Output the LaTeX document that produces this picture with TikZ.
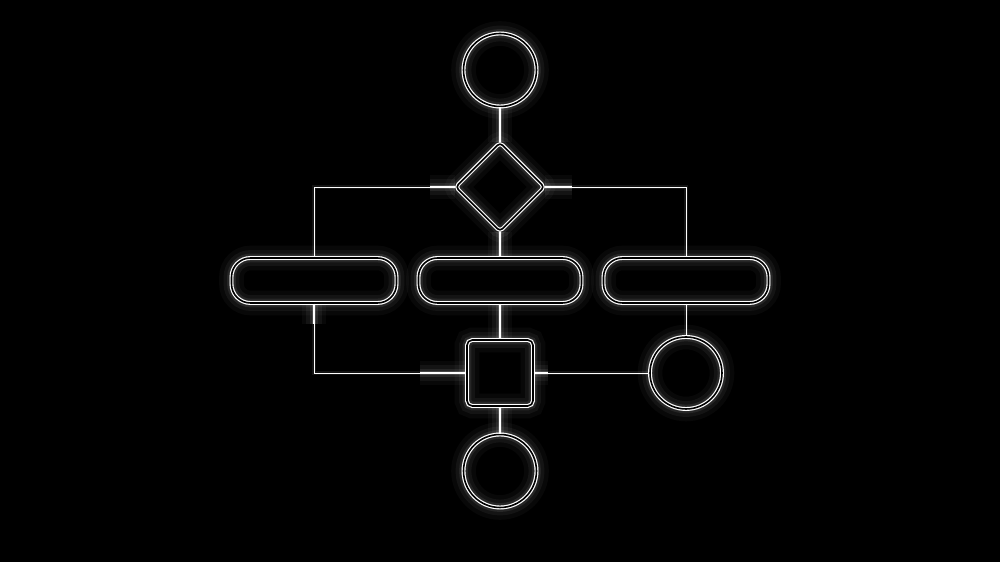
\documentclass[tikz,border=0pt]{standalone}
\usepackage{tikz}
\usetikzlibrary{positioning,shapes.geometric}

\tikzset{
  glow/.style={preaction={draw=white,opacity=.03,line width=14pt},
               preaction={draw=white,opacity=.05,line width=9pt},
               preaction={draw=white,opacity=.08,line width=5pt},
               preaction={draw=white,opacity=.15,line width=2.6pt}},
  neon/.style={draw=white!92,double=black,double distance=.9pt,line width=.65pt,glow},
  wire/.style={draw=white!62,line width=.5pt,preaction={draw=white,opacity=.08,line width=2.5pt}},
  spark/.style={draw=white,line width=1pt,glow}
}

\begin{document}
\begin{tikzpicture}

\fill[black] (0,0) rectangle (20,11.24) ;
\useasboundingbox (0,0) rectangle (20,11.24) ;

\node[circle,neon,minimum size=1.46cm] (c1) at (10,9.84) {} ;
\node[diamond,neon,minimum size=1.78cm,inner sep=0pt,rounded corners=2pt] (d1) at (10,7.5) {} ;
\node[rectangle,neon,minimum width=3.3cm,minimum height=.9cm,rounded corners=.38cm] (r1) at (6.28,5.63) {} ;
\node[rectangle,neon,minimum width=3.26cm,minimum height=.9cm,rounded corners=.38cm] (r2) at (10,5.63) {} ;
\node[rectangle,neon,minimum width=3.3cm,minimum height=.9cm,rounded corners=.38cm] (r3) at (13.72,5.63) {} ;
\node[rectangle,neon,minimum size=1.32cm,rounded corners=3pt] (s1) at (10,3.78) {} ;
\node[circle,neon,minimum size=1.44cm] (c2) at (13.72,3.78) {} ;
\node[circle,neon,minimum size=1.46cm] (c3) at (10,1.82) {} ;

\coordinate (k1) at (8.6,7.5) ;
\coordinate (k2) at (11.44,7.5) ;
\coordinate (k3) at (6.28,4.76) ;
\coordinate (k4) at (8.4,3.78) ;
\coordinate (k5) at (10.96,3.78) ;

\draw[wire] (k1) -| (r1.north) ;
\draw[wire] (k2) -| (r3.north) ;
\draw[wire] (k3) |- (k4) ;
\draw[wire] (k5) -- (c2.west) ;
\draw[wire] (r3.south) -- (c2.north) ;

\draw[spark] (c1.south) -- (d1.north) ;
\draw[spark] (d1.south) -- (r2.north) ;
\draw[spark] (r2.south) -- (s1.north) ;
\draw[spark] (s1.south) -- (c3.north) ;
\draw[spark] (d1.west) -- (k1) ;
\draw[spark] (d1.east) -- (k2) ;
\draw[spark] (r1.south) -- (k3) ;
\draw[spark] (k4) -- (s1.west) ;
\draw[spark] (s1.east) -- (k5) ;

\end{tikzpicture}
\end{document}
